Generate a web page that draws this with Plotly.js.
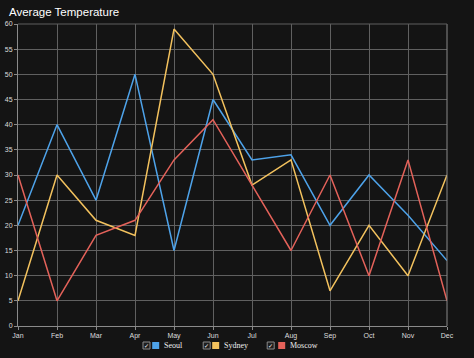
<!DOCTYPE html>
<html><head><meta charset="utf-8">
<script src="https://cdn.plot.ly/plotly-3.0.1.min.js"></script>
<style>html,body{margin:0;padding:0;background:#141414;}#chart{width:474px;height:358px;}</style>
</head><body><div id="chart"></div>
<script>
const months = ["Jan","Feb","Mar","Apr","May","Jun","Jul","Aug","Sep","Oct","Nov","Dec"];
const seoul  = [20,40,25,50,15,45,33,34,20,30,22,13];
const sydney = [5,30,21,18,59,50,28,33,7,20,10,30];
const moscow = [30,5,18,21,33,41,28,15,30,10,33,5];
const names = ["Seoul","Sydney","Moscow"];
const colors = ["#4ea3ea","#f3c25e","#e4625a"];
const series = [seoul, sydney, moscow];

const M = {l:18, r:27, t:24, b:32};
const W = 474, H = 358;
const PW = W - M.l - M.r, PH = H - M.t - M.b;
const px = x => (x - M.l) / PW;
const py = y => (H - M.b - y) / PH;

const traces = series.map((s,i)=>({x:months, y:s, type:"scatter", mode:"lines", name:names[i],
    line:{color:colors[i], width:1.5}, showlegend:false, hoverinfo:"none"}));

const annotations = [{
  text:"Average Temperature", xref:"paper", yref:"paper", x:px(7), y:py(12.5), xanchor:"left", yanchor:"middle",
  showarrow:false, font:{family:"Liberation Sans, Arial", size:11.5, color:"#ffffff"}
}];
const shapes = [
  {type:"line", xref:"paper", yref:"paper", x0:1, x1:1, y0:0, y1:1, line:{color:"#888", width:1}},
  {type:"line", xref:"paper", yref:"paper", x0:0, x1:1, y0:1, y1:1, line:{color:"#5e5e5e", width:1}}
];
// legend (check box, swatch, label)
const checkC = [146.5, 206.7, 270.7];
const swatchC = [155.7, 215.7, 281.7];
const textX = [161.5, 221.8, 288.2];
const ly = 345.5;
names.forEach((n,i)=>{
  shapes.push({type:"rect", xref:"paper", yref:"paper", x0:px(checkC[i]-3.5), x1:px(checkC[i]+3.5),
    y0:py(ly+3.5), y1:py(ly-3.5), line:{color:"#8a8a8a", width:1}, fillcolor:"#1e1e1e"});
  shapes.push({type:"rect", xref:"paper", yref:"paper", x0:px(swatchC[i]-3.5), x1:px(swatchC[i]+3.5),
    y0:py(ly+3.5), y1:py(ly-3.5), line:{width:0}, fillcolor:colors[i]});
  annotations.push({text:"✓", xref:"paper", yref:"paper", x:px(checkC[i]), y:py(ly), xanchor:"center", yanchor:"middle",
    showarrow:false, font:{size:6, color:"#ffffff", family:"DejaVu Sans"}});
  annotations.push({text:n, xref:"paper", yref:"paper", x:px(textX[i]), y:py(ly), xanchor:"left", yanchor:"middle",
    showarrow:false, font:{size:8, color:"#eeeeee", family:"Liberation Serif, Times New Roman"}});
});

const layout = {
  width:W, height:H,
  paper_bgcolor:"#141414", plot_bgcolor:"#141414",
  margin:M,
  font:{family:"Liberation Sans, Arial", color:"#dddddd", size:7},
  xaxis:{type:"category", range:[0,11], showgrid:true, gridcolor:"#606060", gridwidth:1,
    showline:true, linecolor:"#8a8a8a", linewidth:1, ticks:"outside", ticklen:3, tickcolor:"#8a8a8a",
    tickfont:{size:7, color:"#dddddd"}, zeroline:false, fixedrange:true, automargin:false},
  yaxis:{range:[0,60], dtick:5, showgrid:true, gridcolor:"#606060", gridwidth:1,
    showline:true, linecolor:"#8a8a8a", linewidth:1, ticks:"outside", ticklen:3, tickcolor:"#8a8a8a",
    tickfont:{size:7, color:"#dddddd"}, zeroline:false, fixedrange:true, automargin:false},
  showlegend:false,
  annotations: annotations,
  shapes: shapes
};
Plotly.newPlot("chart", traces, layout, {displayModeBar:false, staticPlot:true});
</script></body></html>
